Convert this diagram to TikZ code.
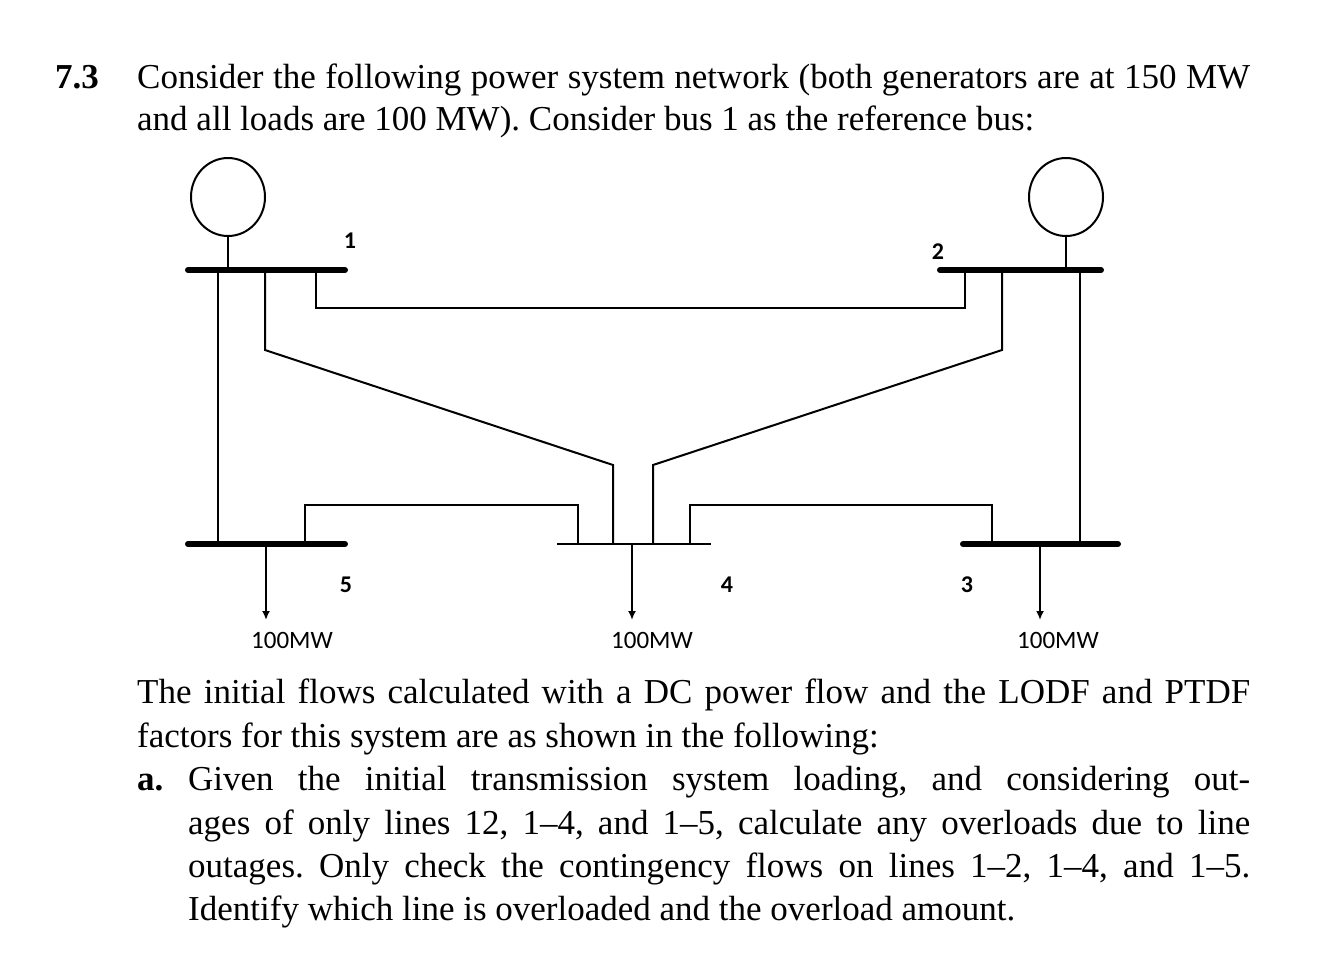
\documentclass[tikz,border=0pt]{standalone}
\usepackage{fontspec}
\usetikzlibrary{shapes.geometric,arrows.meta}
\setmainfont{Liberation Serif}
\newfontfamily\carlitofont{Carlito}
\begin{document}
\frenchspacing
\begin{tikzpicture}[x=1pt,y=-1pt,
  bus/.style={line width=6pt,line cap=round},
  ln/.style={line width=2pt},
  ld/.style={line width=2pt,-{Latex[length=9pt,width=8pt]}},
  txt/.style={anchor=base west,inner sep=0pt,font=\fontsize{35}{40}\selectfont},
  num/.style={font=\carlitofont\bfseries\fontsize{24}{28}\selectfont,inner sep=0pt},
  mw/.style={font=\carlitofont\fontsize{25}{28}\selectfont,inner sep=0pt},
  gen/.style={draw,line width=2pt,ellipse,minimum width=74pt,minimum height=78pt,inner sep=0pt}]
\useasboundingbox (0,0) rectangle (1340,978);
% text
\node[txt] (n73) at (55,88) {\bfseries 7.3};
\node[txt] (l1) at (137,88) {\makebox[1113pt][s]{Consider the following power system network (both generators are at 150 MW}};
\node[txt] (l2) at (137,130) {and all loads are 100 MW). Consider bus 1 as the reference bus:};
\node[txt] (l3) at (137,703) {\makebox[1113pt][s]{The initial flows calculated with a DC power flow and the LODF and PTDF}};
\node[txt] (l4) at (137,747) {factors for this system are as shown in the following:};
\node[txt] (la) at (137,790) {\bfseries a.};
\node[txt] (l5) at (188,790) {\makebox[1062pt][s]{Given the initial transmission system loading, and considering out-}};
\node[txt] (l6) at (188,834) {\makebox[1062pt][s]{ages of only lines 12, 1--4, and 1--5, calculate any overloads due to line}};
\node[txt] (l7) at (188,877) {\makebox[1062pt][s]{outages. Only check the contingency flows on lines 1--2, 1--4, and 1--5.}};
\node[txt] (l8) at (188,920) {Identify which line is overloaded and the overload amount.};
% generators
\node[gen] (g1) at (228,197) {};
\node[gen] (g2) at (1066,197) {};
% buses
\coordinate (b1l) at (188,270); \coordinate (b1r) at (345,270);
\coordinate (b2l) at (940,270); \coordinate (b2r) at (1101,270);
\coordinate (b5l) at (188,544); \coordinate (b5r) at (345,544);
\coordinate (b3l) at (963,544); \coordinate (b3r) at (1118,544);
\coordinate (b4l) at (557,544); \coordinate (b4r) at (711,544);
\draw[bus] (b1l) -- (b1r);
\draw[bus] (b2l) -- (b2r);
\draw[bus] (b5l) -- (b5r);
\draw[bus] (b3l) -- (b3r);
\draw[line width=2.5pt] (b4l) -- (b4r);
\draw[ln] (g1.south) -- (228,270);
\draw[ln] (g2.south) -- (1066,270);
% lines
\draw[ln] (218,270) -- (218,544);
\draw[ln] (1080,270) -- (1080,544);
\draw[ln] (316,270) -- (316,308) -- (965,308) -- (965,270);
\draw[ln] (265,270) -- (265,350) -- (613,465) -- (613,544);
\draw[ln] (1002,270) -- (1002,350) -- (653,465) -- (653,544);
\draw[ln] (305,544) -- (305,505) -- (578,505) -- (578,544);
\draw[ln] (690,544) -- (690,505) -- (992,505) -- (992,544);
% loads
\draw[ld] (266,544) -- (266,620);
\draw[ld] (632,544) -- (632,620);
\draw[ld] (1040,544) -- (1040,620);
\node[mw] (m5) at (292,640) {100MW};
\node[mw] (m4) at (652,640) {100MW};
\node[mw] (m3) at (1058,640) {100MW};
% bus numbers
\node[num] (t1) at (350,241) {1};
\node[num] (t2) at (938,252) {2};
\node[num] (t5) at (346,585) {5};
\node[num] (t4) at (727,585) {4};
\node[num] (t3) at (967,585) {3};
\end{tikzpicture}
\end{document}
